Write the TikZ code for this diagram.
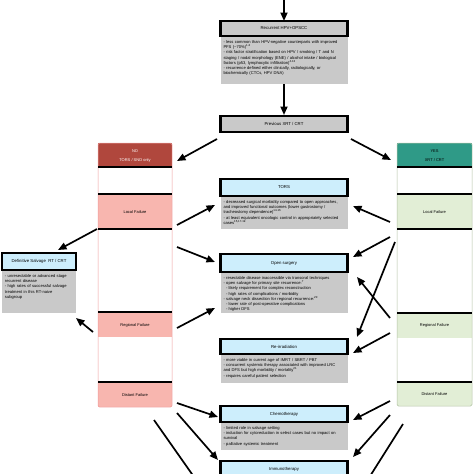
\documentclass[tikz,border=0pt]{standalone}
\usepackage{fontspec}
\setmainfont{Liberation Sans}
\usetikzlibrary{arrows.meta}
\definecolor{boxgray}{HTML}{C9C9C9}
\definecolor{boxblue}{HTML}{CDEEFC}
\definecolor{nohead}{HTML}{B0473D}
\definecolor{nolight}{HTML}{F8B6AF}
\definecolor{noline}{HTML}{F09C9C}
\definecolor{yeshead}{HTML}{2F9A87}
\definecolor{yeslight}{HTML}{E2EED6}
\definecolor{yesline}{HTML}{B3C3A6}
\begin{document}
\begin{tikzpicture}[x=1pt,y=-1pt]
\tikzset{
 arr/.style={line width=1.7pt, -{Triangle[length=8.5pt,width=7pt]}},
 ttl/.style={draw=black, line width=2.6pt, inner sep=0pt, minimum width=127pt, font=\fontsize{4.3}{5}\selectfont},
 dsc/.style={fill=boxgray, inner sep=0pt, minimum width=127pt, anchor=north},
 dtxt/.style={anchor=north west, inner xsep=3pt, inner ysep=4pt, text width=125pt, align=left, font=\fontsize{4.1}{5.3}\selectfont},
 lbl/.style={font=\fontsize{4}{5}\selectfont, align=center, inner sep=0pt},
 sep/.style={line width=1.8pt, black},
}
\useasboundingbox (0,0) rectangle (474,474);
\clip (0,0) rectangle (474,474);
\fill[white] (0,0) rectangle (474,474);

% ---------- NO column ----------
\fill[nohead] (98,143) rectangle (172,167);
\fill[nolight] (98,194) rectangle (172,229);
\fill[nolight] (98,312) rectangle (172,337);
\fill[nolight] (98,382) rectangle (172,407);
\draw[noline, line width=0.5pt, rounded corners=1.5pt] (98,143) rectangle (172,407);
\foreach \yy in {167,194,229,312,382} \draw[sep] (98,\yy) -- (172,\yy);
\node[lbl, text=white] (noA) at (135,151) {NO};
\node[lbl, text=white] (noB) at (135,160) {TORS / SND only};
\node[lbl] (noLF) at (135,212) {Local Failure};
\node[lbl] (noRF) at (135,325) {Regional Failure};
\node[lbl] (noDF) at (135,395) {Distant Failure};

% ---------- YES column ----------
\fill[yeshead] (397,143) rectangle (472,167);
\fill[yeslight] (397,194) rectangle (472,229);
\fill[yeslight] (397,313) rectangle (472,338);
\fill[yeslight] (397,382) rectangle (472,406);
\draw[yesline, line width=0.5pt, rounded corners=1.5pt] (397,143) rectangle (472,406);
\foreach \yy in {167,194,229,313,382} \draw[sep] (397,\yy) -- (472,\yy);
\node[lbl] (yesA) at (434.5,151) {YES};
\node[lbl] (yesB) at (434.5,160) {XRT / CRT};
\node[lbl] (yesLF) at (434.5,212) {Local Failure};
\node[lbl] (yesRF) at (434.5,325.5) {Regional Failure};
\node[lbl] (yesDF) at (434.5,394) {Distant Failure};

% ---------- Recurrent ----------
\node[dsc, minimum height=48pt] (recD) at (284,36) {};
\node[dtxt] (recT) at (recD.north west) {- less common than HPV-negative counterparts with improved\\PFS (\textasciitilde70\%)\textsuperscript{1-3}\\- risk factor stratification based on HPV / smoking / T and N\\staging / nodal morphology (ENE) / alcohol intake / biological\\factors (p53, lymphocytic infiltration)\textsuperscript{4-13}\\- recurrence defined either clinically, radiologically, or\\biochemically (CTCs, HPV DNA)};
\node[ttl, fill=boxgray, minimum height=15pt] (rec) at (284,28.5) {Recurrent HPV+OPSCC};

% ---------- Previous ----------
\node[ttl, fill=boxgray, minimum height=16pt] (prev) at (284,124) {Previous XRT / CRT};

% ---------- TORS ----------
\node[dsc, minimum height=33pt] (torsD) at (284,196) {};
\node[dtxt] (torsT) at (torsD.north west) {- decreased surgical morbidity compared to open approaches,\\and improved functional outcomes (lower gastrostomy /\\tracheostomy dependence)\textsuperscript{14-16}\\- at least equivalent oncologic control in appropriately selected\\cases\textsuperscript{15,17-19}};
\node[ttl, fill=boxblue, minimum height=17pt] (tors) at (284,187.5) {TORS};

% ---------- Open surgery ----------
\node[dsc, minimum height=41pt] (openD) at (284,272) {};
\node[dtxt] (openT) at (openD.north west) {- resectable disease inaccessible via transoral techniques\\- open salvage for primary site recurrence:\textsuperscript{7}\\\hspace*{2.5pt}- likely requirement for complex reconstruction\\\hspace*{2.5pt}- high rates of complications / morbidity\\- salvage neck dissection for regional recurrence:\textsuperscript{20}\\\hspace*{2.5pt}- lower rate of post-operative complications\\\hspace*{2.5pt}- higher DFS};
\node[ttl, fill=boxblue, minimum height=18pt] (open) at (284,263) {Open surgery};

% ---------- Re-irradiation ----------
\node[dsc, minimum height=29pt] (reD) at (284,354) {};
\node[dtxt] (reT) at (reD.north west) {- more viable in current age of IMRT / SBRT / PBT\\- concurrent systemic therapy associated with improved LRC\\and DFS but high morbidity / mortality\textsuperscript{21}\\- requires careful patient selection};
\node[ttl, fill=boxblue, minimum height=15pt] (re) at (284,346.5) {Re-irradiation};

% ---------- Chemotherapy ----------
\node[dsc, minimum height=28pt] (chD) at (284,422) {};
\node[dtxt] (chT) at (chD.north west) {- limited role in salvage setting\\- induction for cytoreduction in select cases but no impact on\\survival\\- palliative systemic treatment};
\node[ttl, fill=boxblue, minimum height=16pt] (ch) at (284,414) {Chemotherapy};

% ---------- Immunotherapy ----------
\node[ttl, fill=boxblue, minimum height=16pt] (im) at (284,469) {Immunotherapy};

% ---------- Definitive salvage ----------
\node[dsc, minimum width=74pt, minimum height=43pt] (defD) at (39,270) {};
\node[dtxt, text width=70pt] (defT) at (defD.north west) {- unresectable or advanced stage\\recurrent disease\\- high rates of successful salvage\\treatment in this RT-naive\\subgroup};
\node[ttl, fill=boxblue, minimum width=74pt, minimum height=17pt] (def) at (39,261.5) {Definitive Salvage\ \ RT / CRT};

% ---------- connector end points ----------
\coordinate (top) at (284,0);
\coordinate (recIn) at (284,21);
\coordinate (recOut) at (284,84);
\coordinate (prevIn) at (284,115);
\coordinate (prevL) at (217,139);
\coordinate (noIn) at (177,161);
\coordinate (prevR) at (351,139);
\coordinate (yesIn) at (391,160);
\coordinate (noLF1) at (177,225); \coordinate (torsL) at (215,205);
\coordinate (noLF2) at (177,247); \coordinate (openL1) at (215,262);
\coordinate (noRF1) at (177,328); \coordinate (openL2) at (215,308);
\coordinate (noLF3) at (97,229);  \coordinate (defTop) at (58,250);
\coordinate (noRF2) at (93,332);  \coordinate (defBot) at (76,318);
\coordinate (noDF1) at (177,403); \coordinate (chL) at (218,417);
\coordinate (noDF2) at (177,413); \coordinate (imL) at (218,460);
\coordinate (noDF3) at (154,420); \coordinate (offL) at (206,494);
\coordinate (yLF1) at (390,222);  \coordinate (torsR) at (353,206);
\coordinate (yLF2) at (390,237);  \coordinate (openR1) at (353,257);
\coordinate (yLF3) at (395,242);  \coordinate (reR1) at (357,337);
\coordinate (yRF1) at (390,318);  \coordinate (openR2) at (357,277);
\coordinate (yRF2) at (390,333);  \coordinate (reR2) at (353,353);
\coordinate (yDF1) at (390,401);  \coordinate (chR) at (353,420);
\coordinate (yDF2) at (390,415);  \coordinate (imR) at (353,457);
\coordinate (yDF3) at (403,424);  \coordinate (offR) at (360,492);

% ---------- connectors ----------
\draw[arr] (top) -- (recIn);
\draw[arr] (recOut) -- (prevIn);
\draw[arr] (prevL) -- (noIn);
\draw[arr] (prevR) -- (yesIn);
\draw[arr] (noLF1) -- (torsL);
\draw[arr] (noLF2) -- (openL1);
\draw[arr] (noRF1) -- (openL2);
\draw[arr] (noLF3) -- (defTop);
\draw[arr] (noRF2) -- (defBot);
\draw[arr] (noDF1) -- (chL);
\draw[arr] (noDF2) -- (imL);
\draw[line width=1.7pt] (noDF3) -- (offL);
\draw[arr] (yLF1) -- (torsR);
\draw[arr] (yLF2) -- (openR1);
\draw[arr] (yLF3) -- (reR1);
\draw[arr] (yRF1) -- (openR2);
\draw[arr] (yRF2) -- (reR2);
\draw[arr] (yDF1) -- (chR);
\draw[arr] (yDF2) -- (imR);
\draw[line width=1.7pt] (yDF3) -- (offR);
\end{tikzpicture}
\end{document}
